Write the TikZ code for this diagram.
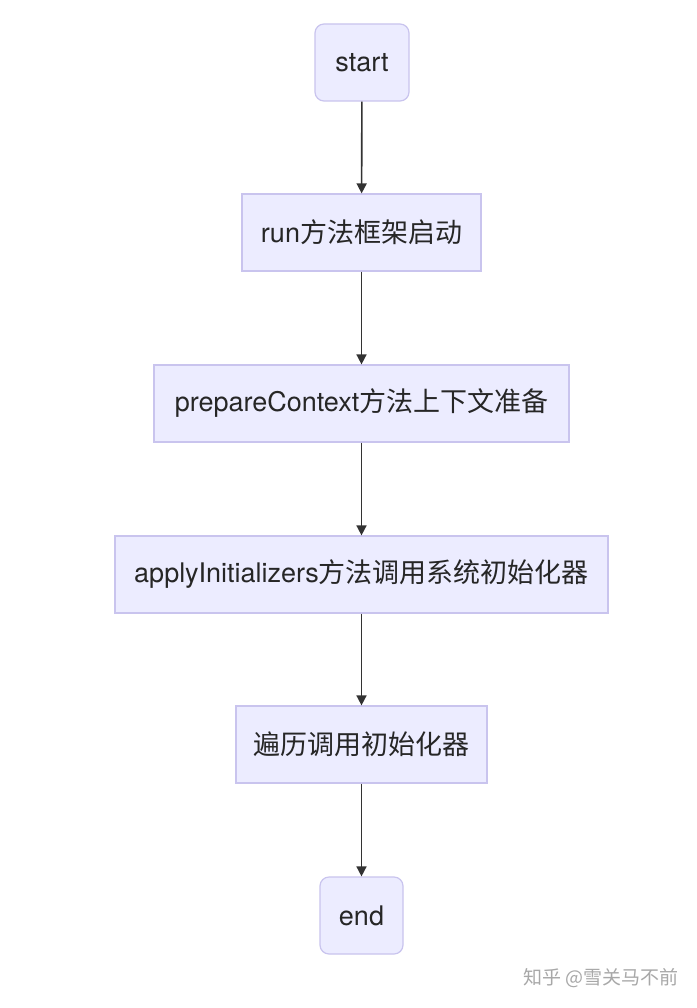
\documentclass[tikz,border=0pt]{standalone}
\usepackage{fontspec}
\setmainfont{TeX Gyre Heros}
\newfontfamily\cjk{Noto Sans CJK SC}
\usetikzlibrary{arrows.meta}
\definecolor{boxfill}{HTML}{ECECFF}
\definecolor{boxline}{HTML}{C9C4EE}
\definecolor{arrowcol}{HTML}{333333}
\definecolor{wmcol}{HTML}{A8A8A8}
\begin{document}
\begin{tikzpicture}[x=1pt,y=-1pt,
  box/.style={draw=boxline,fill=boxfill,line width=1.2pt,minimum height=77pt,inner sep=0pt,font=\fontsize{27}{31}\selectfont,text=black!85},
  roundbox/.style={box,rounded corners=9pt},
  flow/.style={draw=arrowcol,line width=1.6pt,-{Triangle[length=10pt,width=10pt]}}]
\useasboundingbox (0,0) rectangle (696,1008);
\fill[white] (0,0) rectangle (696,1008);
\node[roundbox,minimum width=94pt] (start) at (362,62.5) {start};
\node[box,minimum width=239pt] (run) at (361.5,232.5) {run{\cjk 方法框架启动}};
\node[box,minimum width=415pt] (prep) at (361.5,403.5) {prepareContext{\cjk 方法上下文准备}};
\node[box,minimum width=493pt] (apply) at (361.5,574.5) {applyInitializers{\cjk 方法调用系统初始化器}};
\node[box,minimum width=251pt] (iter) at (361.5,744.5) {{\cjk 遍历调用初始化器}};
\node[roundbox,minimum width=83pt] (end) at (361.5,915.5) {end};
\draw[flow] (start) -- (run);
\draw[flow] (run) -- (prep);
\draw[flow] (prep) -- (apply);
\draw[flow] (apply) -- (iter);
\draw[flow] (iter) -- (end);
\node[text=wmcol,font=\cjk\fontsize{19}{22}\selectfont,anchor=east,inner sep=0pt] (wm) at (679,978) {知乎 @雪关马不前};
\end{tikzpicture}
\end{document}
